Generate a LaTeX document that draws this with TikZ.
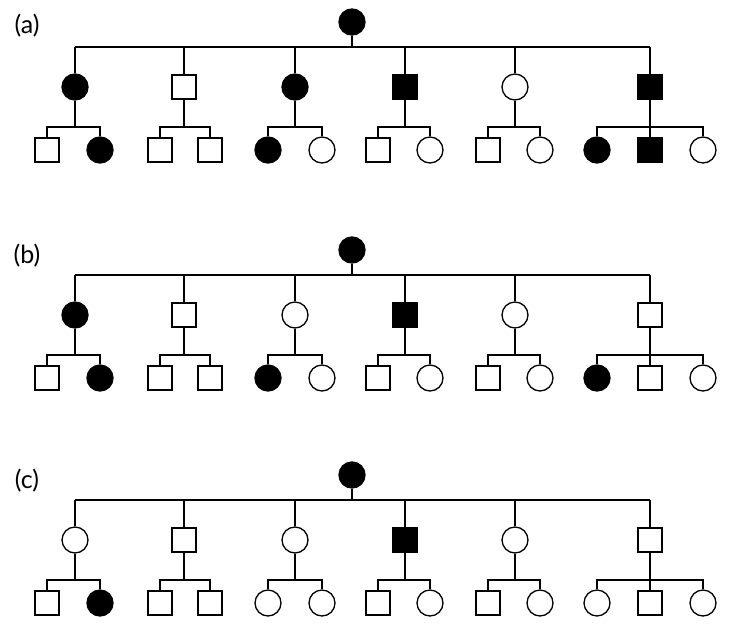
\documentclass[tikz,border=0pt]{standalone}
\usepackage{fontspec}
\setmainfont{Lato}
\newcommand\pedfam[4]{% panel, index, dy, grandchildren list
  \coordinate (#1b#2) at (0,127+#3);
  \draw (#1c#2) -- (#1c#2|-#1b#2);
  \foreach \x/\t [count=\j] in {#4} {
    \node[\t] (#1g#2\j) at (\x,150+#3) {};
    \draw (#1g#2\j) -- (#1g#2\j|-#1b#2) -- (#1c#2|-#1b#2);
  }
}
\newcommand\pedpanel[9]{%
  \node[D] (#1top) at (352,22+#2) {};
  \coordinate (#1bar) at (0,47+#2);
  \draw (#1top) -- (#1top|-#1bar);
  \foreach \x/\t [count=\i] in {#3} {
    \node[\t] (#1c\i) at (\x,87+#2) {};
    \draw (#1c\i) -- (#1c\i|-#1bar);
  }
  \draw (#1c1|-#1bar) -- (#1c6|-#1bar);
  \pedfam{#1}{1}{#2}{#4}
  \pedfam{#1}{2}{#2}{#5}
  \pedfam{#1}{3}{#2}{#6}
  \pedfam{#1}{4}{#2}{#7}
  \pedfam{#1}{5}{#2}{#8}
  \pedfam{#1}{6}{#2}{#9}
}
\begin{document}
\begin{tikzpicture}[x=1pt,y=-1pt,line width=1.3pt,
  base/.style={draw,inner sep=0pt},
  S/.style={base,rectangle,minimum size=24pt,fill=white},
  F/.style={base,rectangle,minimum size=24pt,fill=black},
  C/.style={base,circle,minimum size=26pt,fill=white},
  D/.style={base,circle,minimum size=26pt,fill=black},
  lab/.style={font=\fontsize{25}{30}\selectfont,inner sep=0pt}]
\useasboundingbox (0,0) rectangle (733,627);
\node[lab] (la) at (27,26) {(a)};
\node[lab] (lb) at (27,256) {(b)};
\node[lab] (lc) at (27,481) {(c)};
\pedpanel{a}{0}{75/D,184/S,295/D,405/F,515/C,650/F}
  {47/S,100/D}{160/S,210/S}{268/D,322/C}{378/S,430/C}{488/S,540/C}{597/D,650/F,703/C}
\pedpanel{b}{228}{75/D,184/S,295/C,405/F,515/C,650/S}
  {47/S,100/D}{160/S,210/S}{268/D,322/C}{378/S,430/C}{488/S,540/C}{597/D,650/S,703/C}
\pedpanel{c}{453}{75/C,184/S,295/C,405/F,515/C,650/S}
  {47/S,100/D}{160/S,210/S}{268/C,322/C}{378/S,430/C}{488/S,540/C}{597/C,650/S,703/C}
\end{tikzpicture}
\end{document}
